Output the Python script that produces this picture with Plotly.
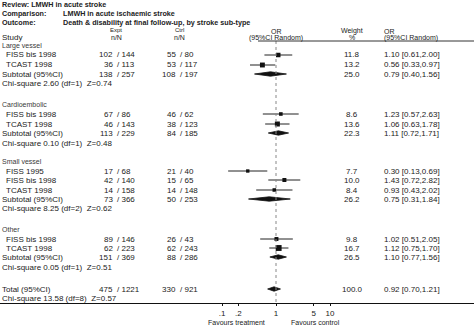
import plotly.graph_objects as go

W, H = 474, 333

# ---------------- data ----------------
title_review = "LMWH in acute stroke"
title_comparison = "LMWH in acute ischaemic stroke"
title_outcome = "Death & disability at final follow-up, by stroke sub-type"

groups = ["Large vessel", "Cardioembolic", "Small vessel", "Other"]

study_group = [0, 0, 1, 1, 2, 2, 2, 3, 3]
study_names = ["FISS bis 1998", "TCAST 1998",
               "FISS bis 1998", "TCAST 1998",
               "FISS 1995", "FISS bis 1998", "TCAST 1998",
               "FISS bis 1998", "TCAST 1998"]
study_expt_n = [102, 36, 67, 46, 17, 42, 14, 89, 62]
study_expt_N = [144, 113, 86, 143, 68, 140, 158, 146, 223]
study_ctrl_n = [55, 53, 46, 38, 21, 15, 14, 26, 62]
study_ctrl_N = [80, 117, 62, 123, 40, 65, 148, 43, 243]
study_weight = [11.8, 13.2, 8.6, 13.6, 7.7, 10.0, 8.4, 9.8, 16.7]
study_or = [1.10, 0.56, 1.23, 1.06, 0.30, 1.43, 0.93, 1.02, 1.12]
study_lo = [0.61, 0.33, 0.57, 0.63, 0.13, 0.72, 0.43, 0.51, 0.75]
study_hi = [2.00, 0.97, 2.63, 1.78, 0.69, 2.82, 2.02, 2.05, 1.70]

sub_expt_n = [138, 113, 73, 151]
sub_expt_N = [257, 229, 366, 369]
sub_ctrl_n = [108, 84, 50, 88]
sub_ctrl_N = [197, 185, 253, 286]
sub_weight = [25.0, 22.3, 26.2, 26.5]
sub_or = [0.79, 1.11, 0.75, 1.10]
sub_lo = [0.40, 0.72, 0.31, 0.77]
sub_hi = [1.56, 1.71, 1.84, 1.56]
sub_chi = ["Chi-square 2.60 (df=1)  Z=0.74",
           "Chi-square 0.10 (df=1)  Z=0.48",
           "Chi-square 8.25 (df=2)  Z=0.62",
           "Chi-square 0.05 (df=1)  Z=0.51"]

total_expt = (475, 1221)
total_ctrl = (330, 921)
total_weight = 100.0
total_or, total_lo, total_hi = 0.92, 0.70, 1.21
total_chi = "Chi-square 13.58 (df=8)  Z=0.57"

tick_vals = [0.1, 0.2, 1, 5, 10]
tick_text = [".1", ".2", "1", "5", "10"]

# ---------------- layout rows (pixel y) ----------------
group_rows = [
    dict(head=46, studies=[55, 65], sub=74, chi=84),
    dict(head=104, studies=[114, 124], sub=133, chi=143),
    dict(head=161, studies=[171, 180, 190], sub=199, chi=209),
    dict(head=229, studies=[239, 248], sub=257, chi=267),
]
total_row, total_chi_row = 289, 298
axis_y = 303

X1 = 276.0      # pixel of OR = 1
DEC = 54.0      # pixels per decade

FONT = "Liberation Sans, Arial, sans-serif"
TXT = "#222222"

fig = go.Figure()
ann = []


def px(x):
    return x / W


def py(y):
    return 1 - y / H


def text(x, y, s, anchor="left", size=8, bold=False, color=TXT):
    if bold:
        s = "<b>" + s + "</b>"
    ann.append(dict(x=px(x), y=py(y), xref="paper", yref="paper", text=s,
                    showarrow=False, xanchor=anchor, yanchor="middle",
                    borderpad=0,
                    font=dict(family=FONT, size=size, color=color)))


def counts(x_slash, y, n, N):
    text(x_slash - 2, y, str(n), "right")
    text(x_slash, y, "/ " + str(N), "left")


EX, CX = 116, 179   # slash positions for Expt / Ctrl columns
HS = 7.2            # header font size

# header
text(1, 4.5, "Review: " + title_review, bold=True, size=HS)
text(1, 13.5, "Comparison:", bold=True, size=HS)
text(62, 13.5, title_comparison, bold=True, size=HS)
text(1, 22.5, "Outcome:", bold=True, size=HS)
text(62, 22.5, title_outcome, bold=True, size=HS)

text(EX, 30.5, "Expt", "center", size=6)
text(EX, 38, "n/N", "center", size=7)
text(CX, 30.5, "Ctrl", "center", size=6)
text(CX, 38, "n/N", "center", size=7)
text(1, 38, "Study", size=8)
text(276, 31, "OR", "center", size=7)
text(276, 38, "(95%CI Random)", "center", size=7)
text(352, 31, "Weight", "center", size=7)
text(352, 38, "%", "center", size=7)
text(383, 31, "OR", size=7)
text(383, 38, "(95%CI Random)", size=7)

# studies per group
for g, rows in enumerate(group_rows):
    text(1, rows["head"], groups[g], size=7, color="#3a3a3a")
    idx = [i for i in range(len(study_names)) if study_group[i] == g]
    for i, y in zip(idx, rows["studies"]):
        text(5, y, study_names[i])
        counts(EX, y, study_expt_n[i], study_expt_N[i])
        counts(CX, y, study_ctrl_n[i], study_ctrl_N[i])
        text(352, y, "%.1f" % study_weight[i], "center")
        text(383, y, "%.2f [%.2f,%.2f]" % (study_or[i], study_lo[i], study_hi[i]))
        fig.add_trace(go.Scatter(x=[study_lo[i], study_hi[i]], y=[y, y], mode="lines",
                                 line=dict(color="#222", width=1), hoverinfo="skip",
                                 showlegend=False))
        fig.add_trace(go.Scatter(x=[study_or[i]], y=[y], mode="markers",
                                 marker=dict(symbol="square", color="#111",
                                             size=1.2 + 0.28 * study_weight[i],
                                             line=dict(width=0)),
                                 hoverinfo="skip", showlegend=False))
    ys = rows["sub"]
    text(1, ys, "Subtotal (95%CI)")
    counts(EX, ys, sub_expt_n[g], sub_expt_N[g])
    counts(CX, ys, sub_ctrl_n[g], sub_ctrl_N[g])
    text(352, ys, "%.1f" % sub_weight[g], "center")
    text(383, ys, "%.2f [%.2f,%.2f]" % (sub_or[g], sub_lo[g], sub_hi[g]))
    fig.add_trace(go.Scatter(x=[sub_lo[g], sub_or[g], sub_hi[g], sub_or[g], sub_lo[g]],
                             y=[ys, ys - 2.2, ys, ys + 2.2, ys], mode="lines",
                             fill="toself", fillcolor="#111",
                             line=dict(color="#111", width=0.8),
                             hoverinfo="skip", showlegend=False))
    text(1, rows["chi"], sub_chi[g])

# total
text(1, total_row, "Total (95%CI)")
counts(EX, total_row, *total_expt)
counts(CX, total_row, *total_ctrl)
text(352, total_row, "%.1f" % total_weight, "center")
text(383, total_row, "%.2f [%.2f,%.2f]" % (total_or, total_lo, total_hi))
fig.add_trace(go.Scatter(x=[total_lo, total_or, total_hi, total_or, total_lo],
                         y=[total_row, total_row - 2.2, total_row, total_row + 2.2, total_row],
                         mode="lines", fill="toself", fillcolor="#111",
                         line=dict(color="#111", width=0.8),
                         hoverinfo="skip", showlegend=False))
text(1, total_chi_row, total_chi)

# favours labels
text(266, 322, "Favours treatment", "right", size=7)
text(290, 322, "Favours control", "left", size=7)

# reference line at OR=1
fig.add_shape(type="line", xref="x", yref="y", x0=1, x1=1, y0=41, y1=axis_y,
              line=dict(color="#888", width=1, dash="dot"))
# header rule (visible part)
fig.add_shape(type="line", xref="paper", yref="y", x0=258 / W, x1=1, y0=41, y1=41,
              line=dict(color="#333", width=1))

xmin = (0 - X1) / DEC
xmax = (W - X1) / DEC

fig.update_layout(
    width=W, height=H,
    margin=dict(l=0, r=0, t=0, b=0),
    paper_bgcolor="white", plot_bgcolor="white",
    showlegend=False,
    annotations=ann,
    xaxis=dict(type="log", range=[xmin, xmax], domain=[0, 1],
               tickvals=tick_vals, ticktext=tick_text,
               tickfont=dict(family=FONT, size=8, color=TXT),
               showgrid=False, zeroline=False, showline=True,
               linecolor="#111", linewidth=1, ticks="outside", ticklen=2,
               tickcolor="#111", fixedrange=True),
    yaxis=dict(range=[axis_y, 0], domain=[(H - axis_y) / H, 1],
               showgrid=False, zeroline=False, showline=False,
               showticklabels=False, ticks="", fixedrange=True),
)

fig.write_html("out.html")
